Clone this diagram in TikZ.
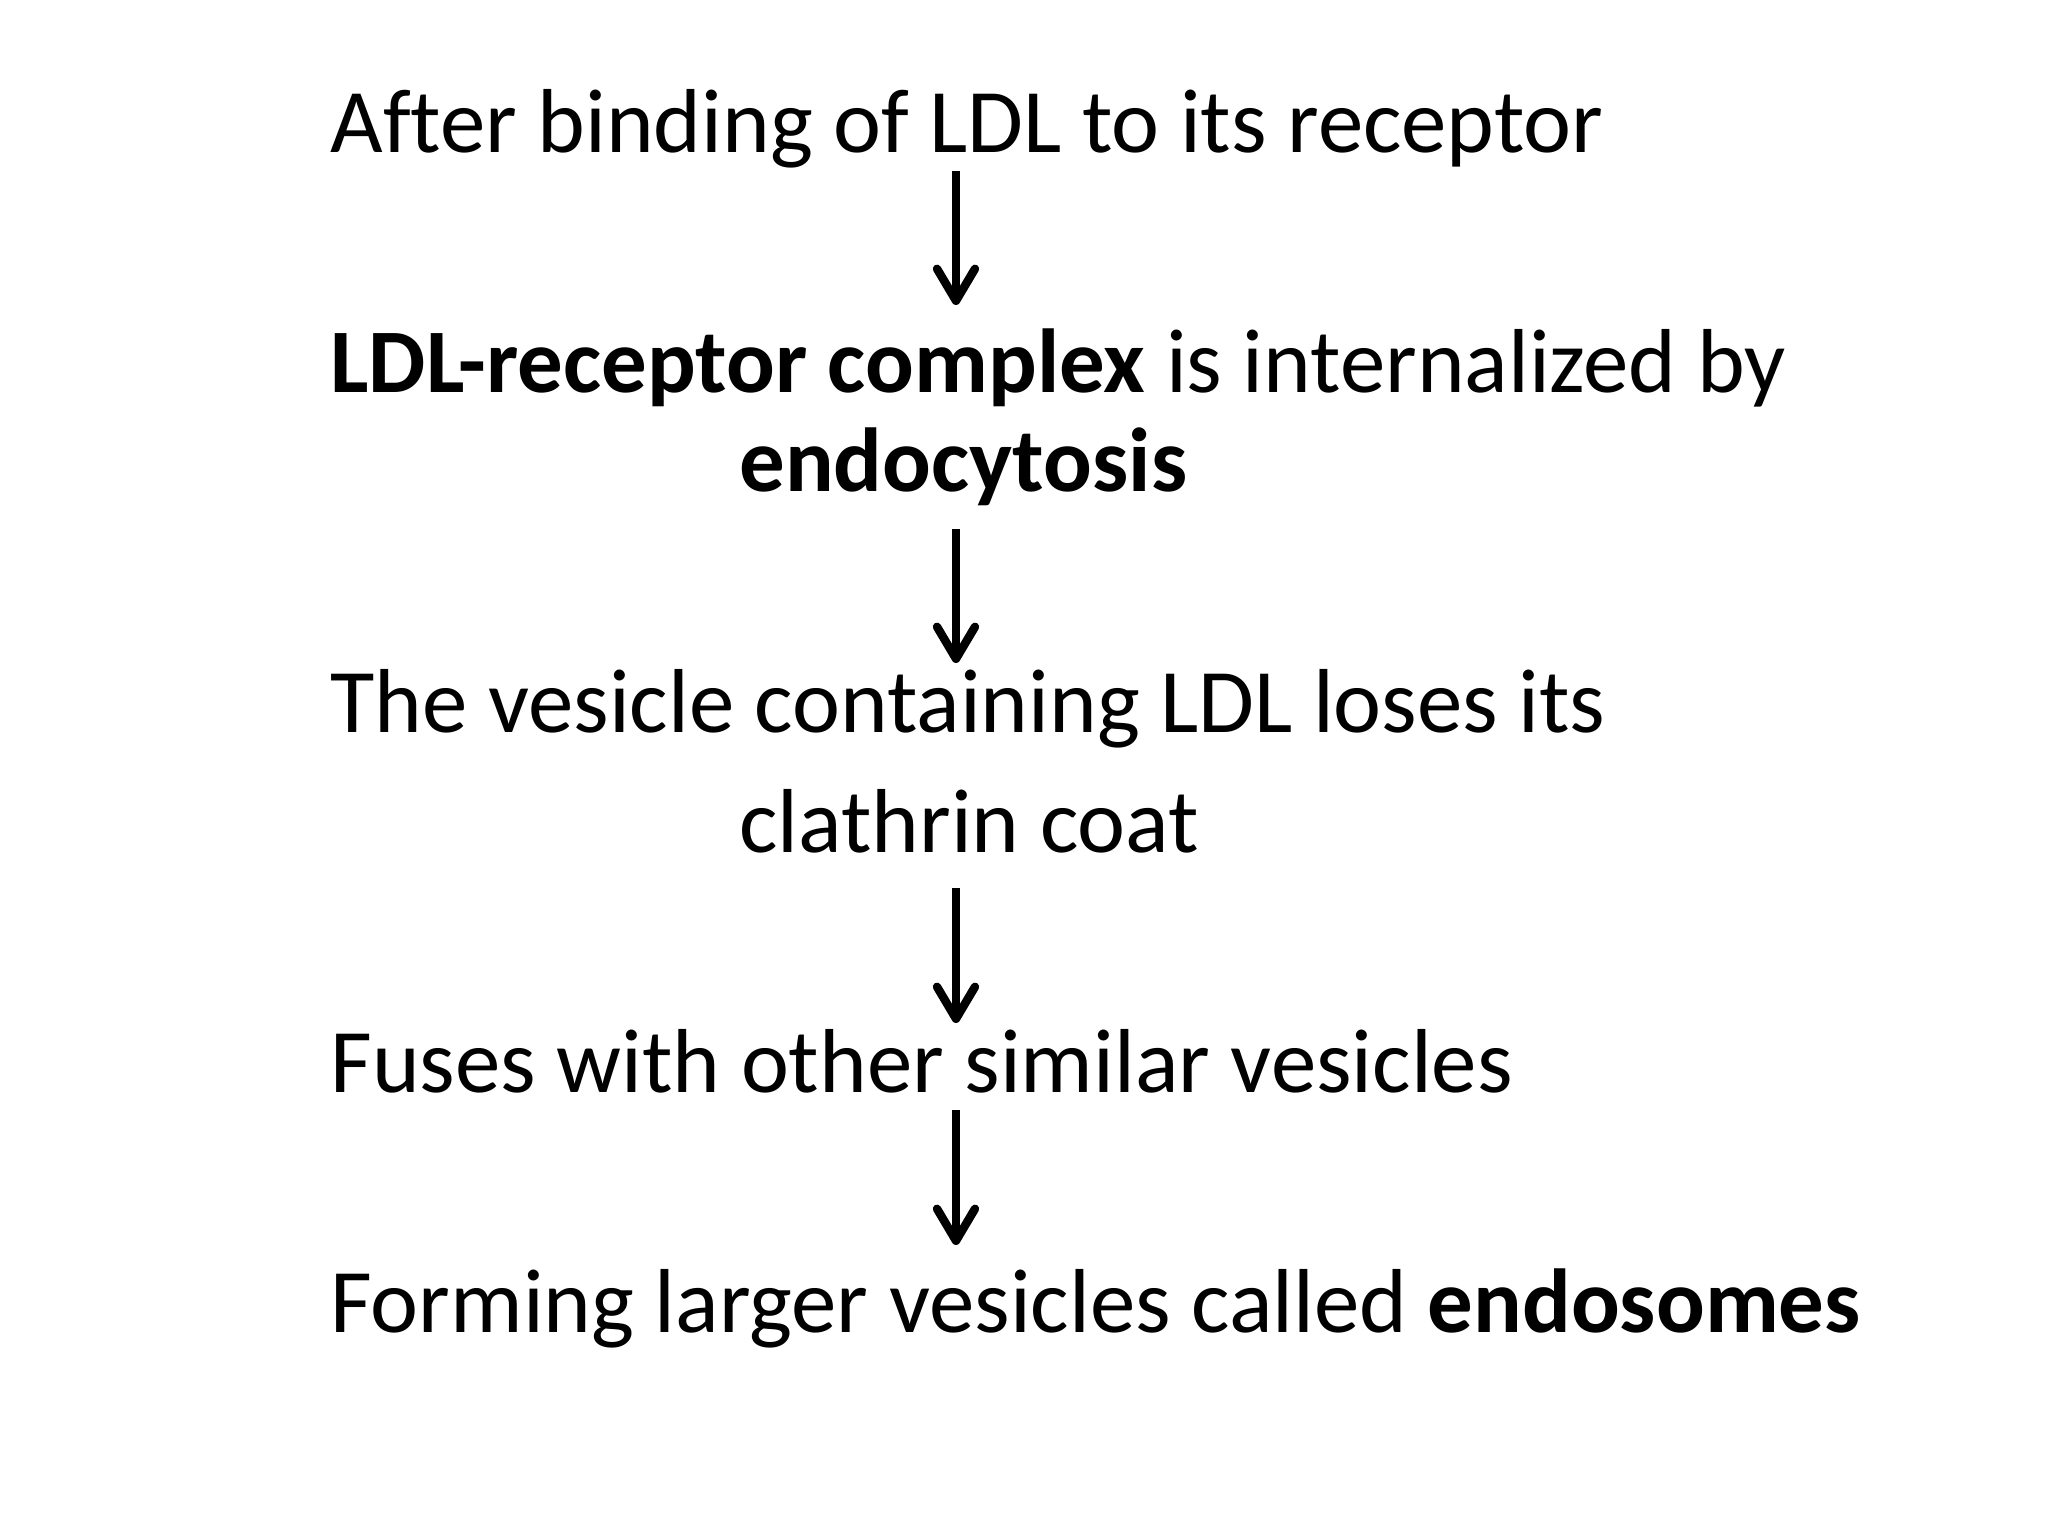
\documentclass[tikz,border=0pt]{standalone}
\usepackage{fontspec}
\setmainfont{Carlito}[Ligatures=NoCommon]
\usetikzlibrary{arrows.meta}

\begin{document}
\begin{tikzpicture}[x=1cm, y=-1cm, thick,
    every node/.style={inner sep=0pt, anchor=base west, font=\fontsize{25.85}{31}\selectfont},
    flow/.style={line width=2.4pt, -{Straight Barb[length=3.2mm, width=3.8mm, line width=2.4pt, round]}}]
    \useasboundingbox (0,0) rectangle (20.48,15.36);
    \node (bind)    at (3.29,1.53)  {After binding of LDL to its receptor};
    \node (intern)  at (3.29,3.93)  {\textbf{LDL-receptor complex} is internalized by};
    \node (endo)    at (7.38,4.92)  {\textbf{endocytosis}};
    \node (lose)    at (3.29,7.32)  {The vesicle containing LDL loses its};
    \node (coat)    at (7.38,8.52)  {clathrin coat};
    \node (fuse)    at (3.29,10.92) {Fuses with other similar vesicles};
    \node (form)    at (3.29,13.32) {Forming larger vesicles called \textbf{endosomes}};
    \coordinate (ax) at (9.56,0);
    % arrows between the steps
    \draw[flow] (ax |- bind.base)  ++(0,0.18) -- ++(0,1.34);
    \draw[flow] (ax |- endo.base)  ++(0,0.37) -- ++(0,1.34);
    \draw[flow] (ax |- coat.base)  ++(0,0.36) -- ++(0,1.35);
    \draw[flow] (ax |- fuse.base)  ++(0,0.18) -- ++(0,1.35);
\end{tikzpicture}
\end{document}
